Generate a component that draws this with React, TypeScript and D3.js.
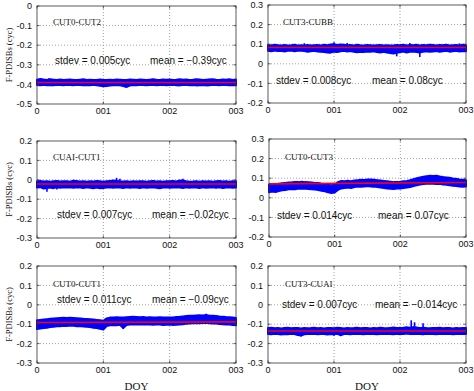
import React from "react";
import * as d3 from "d3";

// x tick labels (day of year) and y tick labels for each panel
const xTicks = [0, 1, 2, 3];
const xTickLabels = ["0", "001", "002", "003"];

const yTicks1 = ["0", "-0.1", "-0.2", "-0.3", "-0.4", "-0.5"];
const yTicks2 = ["0.3", "0.2", "0.1", "0", "-0.1", "-0.2"];
const yTicks3 = ["0.2", "0.1", "0", "-0.1", "-0.2", "-0.3"];
const yTicks4 = ["0.3", "0.2", "0.1", "0", "-0.1", "-0.2"];
const yTicks5 = ["0.2", "0.1", "0", "-0.1", "-0.2", "-0.3"];
const yTicks6 = ["0.2", "0.1", "0", "-0.1", "-0.2", "-0.3"];

const titles = ["CUT0-CUT2", "CUT3-CUBB", "CUAI-CUT1", "CUT0-CUT3", "CUT0-CUT1", "CUT3-CUAI"];
const stdevs = ["stdev = 0.005cyc", "stdev = 0.008cyc", "stdev = 0.007cyc", "stdev = 0.014cyc", "stdev = 0.011cyc", "stdev = 0.007cyc"];
const means = ["mean = −0.39cyc", "mean = 0.08cyc", "mean = −0.02cyc", "mean = 0.07cyc", "mean = −0.09cyc", "mean = −0.014cyc"];

// upper / lower edge of the blue scatter band, every 0.05 day (cyc)
const hi1 = [-0.376,-0.372,-0.375,-0.377,-0.374,-0.376,-0.378,-0.375,-0.377,-0.376,
  -0.375,-0.377,-0.378,-0.376,-0.374,-0.377,-0.376,-0.378,-0.377,-0.375,
  -0.377,-0.378,-0.376,-0.377,-0.375,-0.376,-0.378,-0.377,-0.375,-0.376,
  -0.377,-0.375,-0.376,-0.378,-0.376,-0.374,-0.376,-0.377,-0.375,-0.376,
  -0.375,-0.377,-0.376,-0.374,-0.376,-0.375,-0.377,-0.376,-0.374,-0.375,
  -0.377,-0.376,-0.375,-0.374,-0.376,-0.377,-0.375,-0.376,-0.374,-0.377,-0.375];
const lo1 = [-0.403,-0.405,-0.402,-0.404,-0.403,-0.405,-0.402,-0.403,-0.404,-0.402,
  -0.403,-0.404,-0.402,-0.403,-0.405,-0.403,-0.404,-0.402,-0.405,-0.407,
  -0.410,-0.408,-0.406,-0.404,-0.403,-0.405,-0.408,-0.413,-0.406,-0.403,
  -0.404,-0.402,-0.403,-0.405,-0.403,-0.402,-0.404,-0.403,-0.402,-0.404,
  -0.403,-0.402,-0.404,-0.405,-0.403,-0.402,-0.404,-0.403,-0.405,-0.404,
  -0.403,-0.405,-0.404,-0.402,-0.403,-0.404,-0.402,-0.403,-0.405,-0.403,-0.404];

const hi2 = [0.096,0.094,0.097,0.095,0.093,0.096,0.094,0.095,0.097,0.094,
  0.095,0.093,0.096,0.094,0.095,0.096,0.094,0.097,0.095,0.098,
  0.100,0.096,0.099,0.097,0.095,0.096,0.094,0.097,0.095,0.094,
  0.096,0.095,0.093,0.095,0.096,0.094,0.095,0.093,0.094,0.096,
  0.095,0.097,0.094,0.096,0.095,0.097,0.094,0.096,0.095,0.097,
  0.096,0.094,0.096,0.095,0.097,0.094,0.095,0.096,0.094,0.097,0.095];
const lo2 = [0.066,0.064,0.068,0.065,0.067,0.063,0.066,0.068,0.064,0.066,
  0.067,0.065,0.062,0.064,0.066,0.063,0.061,0.060,0.058,0.057,
  0.062,0.060,0.064,0.066,0.063,0.065,0.061,0.059,0.062,0.060,
  0.063,0.061,0.064,0.060,0.058,0.061,0.057,0.055,0.052,0.056,
  0.060,0.062,0.058,0.061,0.063,0.060,0.058,0.062,0.064,0.061,
  0.063,0.065,0.062,0.064,0.066,0.062,0.064,0.066,0.063,0.065,0.064];

const hi3 = [-0.008,-0.006,-0.009,-0.007,-0.010,-0.008,-0.006,-0.009,-0.008,-0.007,
  -0.010,-0.004,-0.008,-0.009,-0.007,-0.010,-0.008,-0.009,-0.006,-0.008,
  -0.010,-0.008,-0.006,-0.004,-0.006,-0.008,-0.009,-0.007,-0.010,-0.008,
  -0.009,-0.007,-0.008,-0.010,-0.008,-0.006,-0.009,-0.008,-0.010,-0.007,
  -0.008,-0.006,-0.009,-0.004,-0.005,-0.008,-0.010,-0.009,-0.007,-0.010,
  -0.008,-0.009,-0.007,-0.010,-0.008,-0.006,-0.009,-0.008,-0.010,-0.007,-0.008];
const lo3 = [-0.040,-0.038,-0.045,-0.042,-0.040,-0.043,-0.039,-0.041,-0.038,-0.040,
  -0.039,-0.041,-0.038,-0.040,-0.042,-0.039,-0.041,-0.043,-0.040,-0.044,
  -0.042,-0.040,-0.038,-0.041,-0.039,-0.040,-0.042,-0.039,-0.041,-0.038,
  -0.040,-0.042,-0.039,-0.041,-0.040,-0.038,-0.041,-0.043,-0.040,-0.039,
  -0.041,-0.040,-0.038,-0.040,-0.042,-0.039,-0.041,-0.038,-0.040,-0.042,
  -0.039,-0.041,-0.040,-0.038,-0.041,-0.039,-0.042,-0.040,-0.039,-0.041,-0.040];

const hi4 = [0.068,0.070,0.067,0.072,0.074,0.076,0.078,0.079,0.081,0.080,
  0.082,0.080,0.079,0.078,0.076,0.075,0.072,0.070,0.066,0.064,
  0.066,0.080,0.086,0.085,0.087,0.084,0.088,0.090,0.092,0.091,
  0.094,0.093,0.092,0.090,0.088,0.086,0.084,0.082,0.080,0.081,
  0.082,0.084,0.086,0.090,0.095,0.100,0.104,0.107,0.110,0.112,
  0.111,0.113,0.109,0.106,0.104,0.102,0.099,0.097,0.094,0.092,0.090];
const lo4 = [0.028,0.032,0.030,0.035,0.038,0.040,0.043,0.045,0.044,0.047,
  0.046,0.048,0.045,0.044,0.042,0.040,0.036,0.033,0.028,0.025,
  0.027,0.040,0.048,0.050,0.052,0.050,0.055,0.057,0.056,0.058,
  0.060,0.058,0.057,0.055,0.052,0.050,0.048,0.046,0.045,0.047,
  0.048,0.050,0.052,0.055,0.060,0.064,0.068,0.070,0.072,0.073,
  0.072,0.070,0.071,0.068,0.066,0.064,0.062,0.060,0.058,0.057,0.058];

const hi5 = [-0.080,-0.078,-0.076,-0.074,-0.072,-0.070,-0.069,-0.068,-0.067,-0.068,
  -0.067,-0.068,-0.069,-0.070,-0.072,-0.073,-0.074,-0.076,-0.078,-0.080,
  -0.082,-0.070,-0.066,-0.065,-0.064,-0.066,-0.065,-0.064,-0.063,-0.062,
  -0.063,-0.064,-0.063,-0.065,-0.064,-0.066,-0.065,-0.064,-0.066,-0.065,
  -0.066,-0.065,-0.063,-0.062,-0.060,-0.058,-0.057,-0.056,-0.055,-0.054,
  -0.055,-0.053,-0.056,-0.057,-0.058,-0.060,-0.061,-0.063,-0.064,-0.066,-0.068];
const lo5 = [-0.125,-0.122,-0.120,-0.118,-0.115,-0.113,-0.111,-0.110,-0.108,-0.109,
  -0.107,-0.108,-0.110,-0.109,-0.112,-0.113,-0.115,-0.118,-0.120,-0.124,
  -0.128,-0.110,-0.106,-0.104,-0.105,-0.103,-0.120,-0.104,-0.102,-0.101,
  -0.100,-0.102,-0.101,-0.100,-0.102,-0.103,-0.101,-0.102,-0.104,-0.103,
  -0.102,-0.104,-0.103,-0.101,-0.100,-0.098,-0.097,-0.095,-0.094,-0.095,
  -0.094,-0.093,-0.095,-0.096,-0.097,-0.099,-0.100,-0.101,-0.102,-0.104,-0.105];

const hi6 = [-0.120,-0.118,-0.121,-0.119,-0.122,-0.120,-0.118,-0.121,-0.119,-0.120,
  -0.122,-0.119,-0.121,-0.120,-0.118,-0.121,-0.119,-0.122,-0.120,-0.119,
  -0.121,-0.118,-0.120,-0.122,-0.119,-0.121,-0.120,-0.118,-0.121,-0.119,
  -0.120,-0.122,-0.119,-0.121,-0.118,-0.120,-0.121,-0.119,-0.117,-0.120,
  -0.119,-0.118,-0.116,-0.118,-0.115,-0.117,-0.119,-0.118,-0.120,-0.121,
  -0.119,-0.120,-0.118,-0.121,-0.119,-0.120,-0.122,-0.119,-0.121,-0.120,-0.119];
const lo6 = [-0.150,-0.152,-0.149,-0.151,-0.153,-0.150,-0.152,-0.149,-0.151,-0.156,
  -0.158,-0.152,-0.150,-0.151,-0.149,-0.152,-0.150,-0.151,-0.153,-0.150,
  -0.152,-0.149,-0.157,-0.151,-0.150,-0.152,-0.149,-0.151,-0.150,-0.152,
  -0.149,-0.151,-0.150,-0.152,-0.150,-0.149,-0.151,-0.150,-0.152,-0.149,
  -0.151,-0.150,-0.148,-0.150,-0.149,-0.151,-0.150,-0.152,-0.149,-0.151,
  -0.150,-0.152,-0.149,-0.151,-0.150,-0.149,-0.152,-0.150,-0.151,-0.149,-0.150];

// isolated outliers (day, cyc)
const spikeX1 = [0.18, 0.55, 1.0, 1.35, 2.6];
const spikeY1 = [-0.368, -0.372, -0.411, -0.416, -0.371];
const spikeX2 = [0.55, 1.0, 1.2, 1.95, 2.3, 2.15, 2.9];
const spikeY2 = [0.105, 0.11, 0.106, 0.038, 0.035, 0.106, 0.104];
const spikeX3 = [0.15, 0.3, 1.2, 1.25, 2.2, 0.6];
const spikeY3 = [-0.062, -0.05, 0.01, 0.005, 0.006, -0.001];
const spikeX4: number[] = [];
const spikeY4: number[] = [];
const spikeX5 = [2.55, 1.3];
const spikeY5 = [-0.046, -0.124];
const spikeX6 = [2.17, 2.22, 2.35, 0.5, 1.0];
const spikeY6 = [-0.08, -0.09, -0.095, -0.163, -0.16];

// red reference line, value at start and end of the span
const ref1 = [-0.39, -0.39];
const ref2 = [0.083, 0.083];
const ref3 = [-0.022, -0.022];
const ref4 = [0.071, 0.078];
const ref5 = [-0.091, -0.088];
const ref6 = [-0.135, -0.135];

const series = [
  { hi: hi1, lo: lo1, sx: spikeX1, sy: spikeY1, ref: ref1, yt: yTicks1 },
  { hi: hi2, lo: lo2, sx: spikeX2, sy: spikeY2, ref: ref2, yt: yTicks2 },
  { hi: hi3, lo: lo3, sx: spikeX3, sy: spikeY3, ref: ref3, yt: yTicks3 },
  { hi: hi4, lo: lo4, sx: spikeX4, sy: spikeY4, ref: ref4, yt: yTicks4 },
  { hi: hi5, lo: lo5, sx: spikeX5, sy: spikeY5, ref: ref5, yt: yTicks5 },
  { hi: hi6, lo: lo6, sx: spikeX6, sy: spikeY6, ref: ref6, yt: yTicks6 },
];

// pixel boxes and label offsets
const layout = [
  { x0: 37, x1: 236, y0: 6, y1: 104, tx: 16, ty: 19, sy: 58, sdx: 18, mdx: 113 },
  { x0: 268, x1: 466, y0: 5, y1: 103, tx: 15, ty: 20, sy: 79, sdx: 8, mdx: 104 },
  { x0: 37, x1: 236, y0: 141, y1: 238, tx: 16, ty: 19, sy: 77, sdx: 20, mdx: 115 },
  { x0: 269, x1: 466, y0: 139, y1: 237, tx: 16, ty: 21, sy: 80, sdx: 8, mdx: 109 },
  { x0: 37, x1: 236, y0: 266, y1: 363, tx: 16, ty: 21, sy: 37, sdx: 20, mdx: 115 },
  { x0: 268, x1: 466, y0: 266, y1: 363, tx: 17, ty: 21, sy: 42, sdx: 14, mdx: 107 },
];

const SANS = "'Liberation Sans', Arial, sans-serif";
const SERIF = "'Liberation Serif', 'Times New Roman', serif";

const Panel = ({ i }: { i: number }) => {
  const s = series[i];
  const L = layout[i];
  const yVals = s.yt.map((v) => +v);
  const x = d3.scaleLinear().domain([0, 3]).range([L.x0, L.x1]);
  const y = d3.scaleLinear().domain([d3.min(yVals)!, d3.max(yVals)!]).range([L.y1, L.y0]);
  const step = 3 / (s.hi.length - 1);
  const band = d3
    .area<number>()
    .x((_, k) => x(k * step))
    .y0((_, k) => y(s.lo[k]))
    .y1((d) => y(d));
  const refLine = d3
    .line<number>()
    .x((_, k) => x(k * 3))
    .y((d) => y(d));
  const refAt = (t: number) => s.ref[0] + (s.ref[1] - s.ref[0]) * (t / 3);
  const left = i % 2 === 0;
  const bottom = i >= 4;

  return (
    <g>
      {/* grid */}
      {xTicks.slice(1, -1).map((t) => (
        <line key={"gx" + t} x1={x(t)} x2={x(t)} y1={L.y0} y2={L.y1} stroke="#8a8a8a" strokeWidth={0.8} strokeDasharray="1,2" />
      ))}
      {yVals.slice(1, -1).map((t) => (
        <line key={"gy" + t} x1={L.x0} x2={L.x1} y1={y(t)} y2={y(t)} stroke="#8a8a8a" strokeWidth={0.8} strokeDasharray="1,2" />
      ))}
      {/* data: band of dots, outliers, reference line */}
      <path d={band(s.hi) || ""} fill="#0000ff" stroke="#0000ff" strokeWidth={2} strokeLinejoin="round" />
      {s.sx.map((t, k) => (
        <line key={"sp" + k} x1={x(t)} x2={x(t)} y1={y(refAt(t))} y2={y(s.sy[k])} stroke="#0000ff" strokeWidth={1.6} />
      ))}
      <path d={refLine(s.ref) || ""} fill="none" stroke="#ff0000" strokeWidth={1.6} />
      {/* texts */}
      <text x={L.x0 + L.tx} y={L.y0 + L.ty} fontFamily={SERIF} fontSize={9} fill="#111">{titles[i]}</text>
      <text x={L.x0 + L.sdx} y={L.y0 + L.sy} fontFamily={SANS} fontSize={10} fill="#111">{stdevs[i]}</text>
      <text x={L.x0 + L.mdx} y={L.y0 + L.sy} fontFamily={SANS} fontSize={10} fill="#111">{means[i]}</text>
      {/* box and ticks */}
      <rect x={L.x0} y={L.y0} width={L.x1 - L.x0} height={L.y1 - L.y0} fill="none" stroke="#333" strokeWidth={0.8} />
      {xTicks.map((t) => (
        <g key={"xt" + t}>
          <line x1={x(t)} x2={x(t)} y1={L.y1} y2={L.y1 - 2.5} stroke="#333" strokeWidth={0.8} />
          <line x1={x(t)} x2={x(t)} y1={L.y0} y2={L.y0 + 2.5} stroke="#333" strokeWidth={0.8} />
        </g>
      ))}
      {yVals.map((t) => (
        <g key={"yt" + t}>
          <line x1={L.x0} x2={L.x0 + 2.5} y1={y(t)} y2={y(t)} stroke="#333" strokeWidth={0.8} />
          <line x1={L.x1} x2={L.x1 - 2.5} y1={y(t)} y2={y(t)} stroke="#333" strokeWidth={0.8} />
        </g>
      ))}
      {s.yt.map((lab) => (
        <text key={"yl" + lab} x={L.x0 - 5} y={y(+lab)} dy="0.35em" textAnchor="end" fontFamily={SANS} fontSize={9} fill="#111">{lab}</text>
      ))}
      {xTicks.map((t, k) => (
        <text key={"xl" + t} x={x(t)} y={L.y1 + 10} textAnchor="middle" fontFamily={SANS} fontSize={9} fill="#111">{xTickLabels[k]}</text>
      ))}
      {left && (
        <text transform={`translate(12,${(L.y0 + L.y1) / 2}) rotate(-90)`} textAnchor="middle" fontFamily={SERIF} fontSize={8.5} fill="#111">F-PDISBs (cyc)</text>
      )}
      {bottom && (
        <text x={(L.x0 + L.x1) / 2} y={390} textAnchor="middle" fontFamily={SERIF} fontSize={11} fill="#111">DOY</text>
      )}
    </g>
  );
};

export default function App() {
  return (
    <svg width={474} height={391} style={{ position: "absolute", left: 0, top: 0, background: "#fff" }}>
      <rect width={474} height={391} fill="#fff" />
      {series.map((_, i) => (
        <Panel key={i} i={i} />
      ))}
    </svg>
  );
}
